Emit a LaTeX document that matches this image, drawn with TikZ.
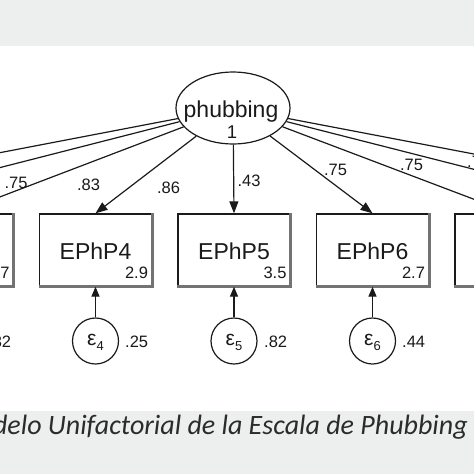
\documentclass[tikz,border=0pt]{standalone}
\usepackage{fontspec}
\setmainfont{Liberation Sans}
\newfontfamily\capfont{Carlito}
\usetikzlibrary{arrows.meta,shapes.geometric,calc}
\definecolor{band}{HTML}{EDEEEE}
\definecolor{ink}{HTML}{1A1A1A}
\definecolor{captxt}{HTML}{2B2B2B}
\begin{document}
\begin{tikzpicture}[x=1pt,y=-1pt,
 obsbox/.style={draw=ink, line width=1.4pt, minimum width=112pt, minimum height=72pt, inner sep=0pt},
 latent/.style={ellipse, draw=ink, line width=1.2pt, minimum width=114pt, minimum height=72pt, inner sep=0pt},
 errc/.style={circle, draw=ink, line width=1.2pt, minimum size=46pt, inner sep=0pt},
 load/.style={draw=ink, line width=1.2pt, -{Triangle[length=12pt,width=9pt]}},
 errarrow/.style={draw=ink, line width=1.4pt, -{Triangle[length=10pt,width=8pt]}},
 bigtxt/.style={font=\fontsize{23}{23}\selectfont, text=ink, inner sep=0pt},
 smalltxt/.style={font=\fontsize{16.5}{16.5}\selectfont, text=ink, inner sep=0pt},
 shadowline/.style={draw=black!55, line width=2.8pt}
]
\useasboundingbox (0,0) rectangle (474,474);
\clip (0,0) rectangle (474,474);
\fill[band] (0,0) rectangle (474,46);
\fill[band] (0,411) rectangle (474,474);

% latent variable
\node[latent] (lat) at (233,108) {};
\node[bigtxt, anchor=base] (latname) at (231,117.5) {phubbing};
\node[smalltxt, anchor=base, font=\fontsize{18.5}{18.5}\selectfont] (latvar) at (232,138) {1};

% off-picture indicators
\coordinate (c1) at (-320,214);
\coordinate (c2) at (-181.5,214);
\coordinate (c8) at (649.5,214);
\coordinate (c9) at (788,214);

% boxes
\node[obsbox] (b3) at (-43,250) {};
\node[obsbox] (b4) at (95.5,250) {};
\node[obsbox] (b5) at (234,250) {};
\node[obsbox] (b6) at (372.5,250) {};
\node[obsbox] (b7) at (511,250) {};
\foreach \b in {b3,b4,b5,b6,b7}{
  \draw[shadowline] (\b.north east) -- (\b.south east) -- (\b.south west);
}
\node[bigtxt, anchor=base] (n4) at (95.5,259) {EPhP4};
\node[bigtxt, anchor=base] (n5) at (234,259) {EPhP5};
\node[bigtxt, anchor=base] (n6) at (372.5,259) {EPhP6};
\node[smalltxt, anchor=base east] (v3) at ($(b3.south east)+(-4,-8)$) {2.7};
\node[smalltxt, anchor=base east] (v4) at ($(b4.south east)+(-4,-8)$) {2.9};
\node[smalltxt, anchor=base east] (v5) at ($(b5.south east)+(-4,-8)$) {3.5};
\node[smalltxt, anchor=base east] (v6) at ($(b6.south east)+(-4,-8)$) {2.7};

% loadings
\draw[load] (lat) -- (c1);
\draw[load] (lat) -- (c2);
\draw[load] (lat) -- (b3.north);
\draw[load] (lat) -- (b4.north);
\draw[load] (lat) -- (b5.north);
\draw[load] (lat) -- (b6.north);
\draw[load] (lat) -- (b7.north);
\draw[load] (lat) -- (c8);
\draw[load] (lat) -- (c9);
\node[smalltxt, anchor=base] (l2) at (16,188) {.75};
\node[smalltxt, anchor=base] (l3) at (88.5,190) {.83};
\node[smalltxt, anchor=base] (l4) at (168.5,193) {.86};
\node[smalltxt, anchor=base] (l5) at (249,186) {.43};
\node[smalltxt, anchor=base] (l6) at (335.5,175) {.75};
\node[smalltxt, anchor=base] (l7) at (411.5,170) {.75};
\node[smalltxt, anchor=base west] (l8) at (467,167) {.72};

% errors
\node[errc] (e4) at (95.5,341) {};
\node[errc] (e5) at (234,341) {};
\node[errc] (e6) at (372.5,341) {};
\foreach \e/\n in {e4/4,e5/5,e6/6}{
  \node[text=ink, inner sep=0pt, font=\fontsize{21}{21}\selectfont] at ($(\e)+(0,1)$) {ε\raisebox{-5pt}{\fontsize{13}{13}\selectfont\n}};
}
\draw[errarrow] (e4) -- (b4.south);
\draw[errarrow] (e5) -- (b5.south);
\draw[errarrow] (e6) -- (b6.south);
\node[smalltxt, anchor=base west] (r3) at (-12,347) {.32};
\node[smalltxt, anchor=base west] (r4) at (125,347) {.25};
\node[smalltxt, anchor=base west] (r5) at (264,347) {.82};
\node[smalltxt, anchor=base west] (r6) at (402,347) {.44};

% caption
\node[anchor=base east, inner sep=0pt, text=captxt, font=\capfont\itshape\fontsize{28}{28}\selectfont] (cap) at (468,434) {Modelo Unifactorial de la Escala de Phubbing};
\end{tikzpicture}
\end{document}
